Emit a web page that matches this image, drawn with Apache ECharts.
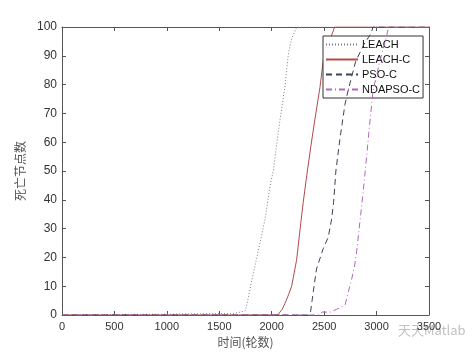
<!DOCTYPE html>
<html>
<head>
<meta charset="utf-8">
<script src="https://cdn.jsdelivr.net/npm/echarts@6/dist/echarts.min.js"></script>
<style>html,body{margin:0;padding:0;background:#fff}#c{width:474px;height:355px}</style>
</head>
<body>
<div id="c"></div>
<script>
const seriesNames = ['LEACH', 'LEACH-C', 'PSO-C', 'NDAPSO-C'];
const xTicks = [0, 500, 1000, 1500, 2000, 2500, 3000, 3500];
const yTicks = [0, 10, 20, 30, 40, 50, 60, 70, 80, 90, 100];

const leachRounds = [0, 1630, 1700, 1750, 1765, 1810, 1870, 1935, 1985, 2015, 2050, 2080, 2125, 2160, 2190, 2240, 3500];
const leachDead   = [0, 0.5, 1, 1.5, 4, 12, 22, 33, 45, 50, 60, 68, 79, 91, 96, 100, 100];

const leachCRounds = [0, 2060, 2078, 2100, 2126, 2160, 2190, 2237, 2262, 2300, 2340, 2375, 2412, 2460, 2490, 2517, 2560, 2600, 3500];
const leachCDead   = [0, 0, 1, 2, 4, 7, 10, 19, 27, 39, 50, 59, 68, 79, 88, 92, 96, 100, 100];

const psoCRounds = [0, 2345, 2370, 2385, 2396, 2427, 2491, 2539, 2570, 2590, 2612, 2650, 2698, 2729, 2800, 2880, 2950, 2965, 3500];
const psoCDead   = [0, 0, 1, 5, 8, 16, 23, 27, 33, 39, 50, 61, 73, 78, 88, 94, 98, 100, 100];

const ndapsoRounds = [0, 2450, 2480, 2560, 2620, 2700, 2730, 2760, 2790, 2810, 2840, 2873, 2905, 2936, 2967, 3030, 3090, 3115, 3500];
const ndapsoDead   = [0, 0, 1, 1, 2, 3.5, 8, 12, 17, 22, 32, 43, 55, 67, 78, 88, 96, 100, 100];

const zip = (a, b) => a.map((v, i) => [v, b[i]]);
const allData = [zip(leachRounds, leachDead), zip(leachCRounds, leachCDead), zip(psoCRounds, psoCDead), zip(ndapsoRounds, ndapsoDead)];
const colors = ['#7a7f8c', '#b24a4a', '#3b4256', '#b068b8'];
const dashes = [[1, 2], 'solid', [6, 4], [6, 3, 1, 3]];

const axisColor = '#555';
const font = 'Liberation Sans, Arial, sans-serif';

const chart = echarts.init(document.getElementById('c'));
chart.setOption({
  animation: false,
  backgroundColor: '#fff',
  grid: { left: 62, top: 27, right: 45, bottom: 40 },
  legend: {
    data: seriesNames,
    orient: 'vertical',
    left: 323, top: 36,
    backgroundColor: '#fff',
    borderColor: '#333', borderWidth: 1, borderRadius: 0,
    padding: [3, 3, 3, 2],
    itemWidth: 32, itemHeight: 11, itemGap: 4,
    itemStyle: { opacity: 0 },
    textStyle: { fontFamily: font, fontSize: 11, color: '#111', padding: [0, 0, 0, -1] }
  },
  xAxis: [{
    type: 'value', min: 0, max: 3500, interval: 500,
    name: '时间(轮数)', nameLocation: 'middle', nameGap: 21,
    nameTextStyle: { fontFamily: 'Noto Sans CJK SC', fontSize: 12, color: '#555' },
    axisLine: { show: true, lineStyle: { color: axisColor, width: 1 } },
    axisTick: { show: true, inside: true, length: 4, lineStyle: { color: axisColor } },
    axisLabel: { margin: 6, fontFamily: font, fontSize: 11, color: '#333',
      formatter: v => xTicks.includes(v) ? String(v) : '' },
    splitLine: { show: false }
  }, {
    type: 'value', min: 0, max: 3500, interval: 500, position: 'top',
    axisLine: { show: true, onZero: false, lineStyle: { color: axisColor, width: 1 } },
    axisTick: { show: true, inside: true, length: 4, lineStyle: { color: axisColor } },
    axisLabel: { show: false }, splitLine: { show: false }
  }],
  yAxis: [{
    type: 'value', min: 0, max: 100, interval: 10,
    name: '死亡节点数', nameLocation: 'middle', nameGap: 29, nameRotate: 90,
    nameTextStyle: { fontFamily: 'Noto Sans CJK SC', fontSize: 12, color: '#555' },
    axisLine: { show: true, lineStyle: { color: axisColor, width: 1 } },
    axisTick: { show: true, inside: true, length: 4, lineStyle: { color: axisColor } },
    axisLabel: { margin: 5, fontFamily: font, fontSize: 12, color: '#333',
      formatter: v => yTicks.includes(v) ? String(v) : '' },
    splitLine: { show: false }
  }, {
    type: 'value', min: 0, max: 100, interval: 10, position: 'right',
    axisLine: { show: true, onZero: false, lineStyle: { color: axisColor, width: 1 } },
    axisTick: { show: true, inside: true, length: 4, lineStyle: { color: axisColor } },
    axisLabel: { show: false }, splitLine: { show: false }
  }],
  graphic: [{
    type: 'text', left: 398, top: 324, silent: true,
    style: { text: '天天Matlab', fill: 'rgba(150,150,150,0.6)', font: '13px "Noto Sans CJK SC"' }
  }],
  series: seriesNames.map((n, i) => ({
    name: n, type: 'line', data: allData[i],
    symbol: 'none', showSymbol: false,
    lineStyle: { color: colors[i], width: 1, type: dashes[i] },
    itemStyle: { color: colors[i] },
    z: 2 + i
  }))
});
</script>
</body>
</html>
